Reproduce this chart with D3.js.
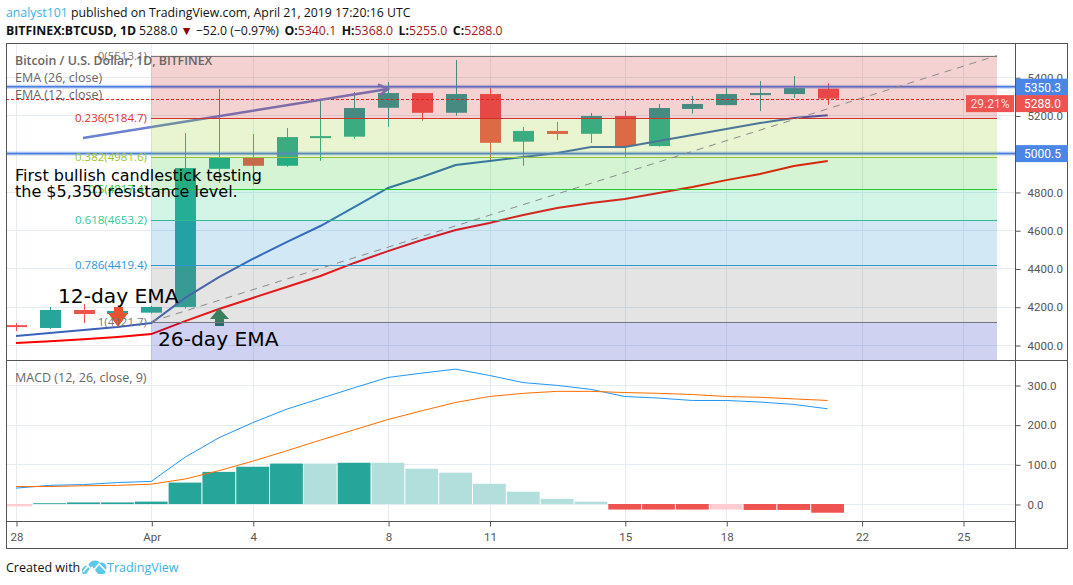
<!DOCTYPE html>
<html>
<head>
<meta charset="utf-8">
<style>
html,body{margin:0;padding:0;background:#fff;}
svg{display:block;}
text{font-family:"Open Sans",Roboto,sans-serif;}
</style>
</head>
<body>
<svg id="chart" width="1073" height="585"></svg>
<script src="https://cdn.jsdelivr.net/npm/d3@7/dist/d3.min.js"></script>
<script>
// BTC/USD daily candles, 28 March to 21 April 2019
const days = ["2019-03-28","2019-03-29","2019-03-30","2019-03-31","2019-04-01","2019-04-02","2019-04-03","2019-04-04","2019-04-05","2019-04-06","2019-04-07","2019-04-08","2019-04-09","2019-04-10","2019-04-11","2019-04-12","2019-04-13","2019-04-14","2019-04-15","2019-04-16","2019-04-17","2019-04-18","2019-04-19","2019-04-20","2019-04-21"];
const opens  = [4104,4089,4183,4162,4169,4199,4921,4979,4937,5082,5089,5240,5317,5214,5312,5063,5119,5104,5197,5040,5234,5254,5308,5312,5340.1];
const highs  = [4115,4199,4214,4193,4205,5108,5338,5103,5134,5281,5322,5375,5317,5490,5343,5139,5166,5213,5223,5260,5302,5343,5380,5406,5368];
const lows   = [4073,4084,4115,4152,4165,4190,4847,4838,4932,4963,5078,5141,5172,5199,4958,4937,5072,5056,4984,5037,5209,5254,5223,5291,5255];
const closes = [4094,4183,4162,4178,4199,4925,4979,4937,5087,5092,5239,5317,5214,5312,5057,5119,5103,5197,5040,5239,5260,5312,5317,5343,5288];

const ema12 = [4047,4063,4078,4094,4115,4246,4355,4450,4538,4622,4721,4821,4878,4941,4962,4983,5004,5035,5035,5066,5098,5129,5160,5187,5201];
const ema26 = [4010,4020,4030,4042,4057,4125,4188,4246,4303,4361,4429,4491,4549,4601,4638,4680,4716,4742,4763,4795,4826,4862,4894,4936,4962];

const macdLine   = [40,47,49,54,57,118,167,205,239,266,293,319,330,340,324,306,299,289,271,267,261,261,257,251,240];
const signalLine = [44,44,46,47,50,63,84,108,134,161,187,213,235,256,271,279,284,284,281,279,276,271,269,265,261];
const histogram  = [-6,2,4,4,6,54,81,94,102,102,104,104,89,79,51,31,13,6,-14,-14,-14,-14,-15,-15,-22];
const histShade  = ["pale","full","full","full","full","full","full","full","full","pale","full","pale","pale","pale","pale","pale","pale","pale","full","full","full","pale","full","full","full"];

const fibRatios = ["0","0.236","0.382","0.5","0.618","0.786","1"];
const fibPrices = [5513.1,5184.7,4981.6,4817.4,4653.2,4419.4,4121.7];
const fibLine   = ["#787878","#d32f2f","#8fc23a","#22cc22","#35b894","#2b98d0","#787878"];
const fibLabel  = ["#787878","#e03030","#9cc51f","#2ecc2e","#2ecc94","#2b98d8","#787878"];
const fibFill   = ["#c81e1e","#91c814","#28c828","#1ecd8c","#1e91cd","#787878"];
const belowFill = "#141ebe";

const priceTicks = [4000,4200,4400,4600,4800,5000,5200,5400];
const macdTicks  = [0,100,200,300];
const timeTickDates = ["2019-03-28","2019-04-01","2019-04-04","2019-04-08","2019-04-11","2019-04-15","2019-04-18","2019-04-22","2019-04-25"];
const timeTickLabels = ["28","Apr","4","8","11","15","18","22","25"];
const levelPrices = [5350.3,5000.5];
const lastPrice = 5288.0;
const swingLow = 4121.7, swingHigh = 5513.1;
const retracePercent = "29.21%";

const parse = d3.utcParse("%Y-%m-%d");
const dates = days.map(parse);

const W = {left:6,right:1067,axis:1015,top:43,split:360,macdBottom:521,bottom:548};
const fibLeft = 151, fibRight = 997;

const x = d3.scaleUtc().domain([parse("2019-03-28"),parse("2019-04-25")]).range([16,963]);
const y = d3.scaleLinear().domain([4000,5400]).range([345,77.2]);
const ym = d3.scaleLinear().domain([0,300]).range([504,385]);
const px = v => Math.round(v)+0.5;

const svg = d3.select("#chart");
const defs = svg.append("defs");
defs.append("clipPath").attr("id","pricePane").append("rect")
  .attr("x",W.left).attr("y",W.top).attr("width",W.axis-W.left).attr("height",W.split-W.top);
defs.append("clipPath").attr("id","macdPane").append("rect")
  .attr("x",W.left).attr("y",W.split).attr("width",W.axis-W.left).attr("height",W.macdBottom-W.split);

const gridColor = "#e4edf3";

// Grid
const grid = svg.append("g");
grid.selectAll(".v").data(timeTickDates).join("line")
  .attr("x1",d=>px(x(parse(d)))).attr("x2",d=>px(x(parse(d))))
  .attr("y1",W.top).attr("y2",W.macdBottom).attr("stroke",gridColor);
grid.selectAll(".hp").data(priceTicks).join("line")
  .attr("x1",W.left).attr("x2",W.axis).attr("y1",d=>px(y(d))).attr("y2",d=>px(y(d))).attr("stroke",gridColor);
grid.selectAll(".hm").data(macdTicks).join("line")
  .attr("x1",W.left).attr("x2",W.axis).attr("y1",d=>px(ym(d))).attr("y2",d=>px(ym(d))).attr("stroke",gridColor);

// Price pane
const price = svg.append("g").attr("clip-path","url(#pricePane)");
const up = "#26a69a", down = "#ef5350";
const candle = price.selectAll("g.c").data(dates).join("g");
candle.append("line")
  .attr("x1",d=>px(x(d))).attr("x2",d=>px(x(d)))
  .attr("y1",(d,i)=>y(highs[i])).attr("y2",(d,i)=>y(lows[i]))
  .attr("stroke",(d,i)=>closes[i]>=opens[i]?up:down);
candle.append("rect")
  .attr("x",d=>Math.round(x(d))-10).attr("width",21)
  .attr("y",(d,i)=>y(Math.max(opens[i],closes[i])))
  .attr("height",(d,i)=>Math.max(2,Math.abs(y(opens[i])-y(closes[i]))))
  .attr("fill",(d,i)=>closes[i]>=opens[i]?up:down);

const lineOf = scale => d3.line().x((v,i)=>x(dates[i])).y(v=>scale(v));
price.append("path").datum(ema12).attr("d",lineOf(y)).attr("fill","none").attr("stroke","#3a62b8").attr("stroke-width",2);
price.append("path").datum(ema26).attr("d",lineOf(y)).attr("fill","none").attr("stroke","#ff0000").attr("stroke-width",2);

// Horizontal resistance and support levels
levelPrices.forEach(p=>{
  price.append("line").attr("x1",W.left).attr("x2",W.axis).attr("y1",y(p)).attr("y2",y(p))
    .attr("stroke","#4a86e8").attr("stroke-opacity",.35).attr("stroke-width",4);
  price.append("line").attr("x1",W.left).attr("x2",W.axis).attr("y1",y(p)).attr("y2",y(p))
    .attr("stroke","#4a7ae0").attr("stroke-width",1.5);
});
price.append("line").attr("x1",W.left).attr("x2",W.axis).attr("y1",px(y(lastPrice))).attr("y2",px(y(lastPrice)))
  .attr("stroke","#f02020").attr("stroke-dasharray","3 2");

// Trend arrow drawn across the rally
const trendStart = [83,138], trendEnd = [388,89];
const arrow = price.append("g").attr("fill","none").attr("stroke","#6a80cc").attr("stroke-width",2.5);
arrow.append("line").attr("x1",trendStart[0]).attr("y1",trendStart[1]).attr("x2",trendEnd[0]).attr("y2",trendEnd[1]);
arrow.append("path").attr("d",`M378,84.5L${trendEnd[0]},${trendEnd[1]}L380,95`);

// Buy and sell markers
price.append("path").attr("d","M114,307H123V313H128L118,327L108,313H114Z").attr("fill","#e8512f");
price.append("path").attr("d","M219,308L229,319H224V326H215V319H210Z").attr("fill","#2f8058");

// Fibonacci retracement bands laid over the candles
const fib = price.append("g");
fibFill.forEach((c,i)=>{
  fib.append("rect").attr("x",fibLeft).attr("width",fibRight-fibLeft)
    .attr("y",y(fibPrices[i])).attr("height",y(fibPrices[i+1])-y(fibPrices[i]))
    .attr("fill",c).attr("fill-opacity",.2);
});
fib.append("rect").attr("x",fibLeft).attr("width",fibRight-fibLeft)
  .attr("y",y(swingLow)).attr("height",W.split-y(swingLow))
  .attr("fill",belowFill).attr("fill-opacity",.2);
fibPrices.forEach((p,i)=>{
  fib.append("line").attr("x1",fibLeft).attr("x2",fibRight)
    .attr("y1",px(y(p))).attr("y2",px(y(p))).attr("stroke",fibLine[i]);
  fib.append("text").attr("x",147).attr("y",y(p)+4).attr("text-anchor","end")
    .attr("font-size",11.5).attr("font-weight",500).attr("fill",fibLabel[i])
    .text(`${fibRatios[i]}(${p.toFixed(1)})`);
});
// Diagonal from the swing low to the swing high
fib.append("line").attr("x1",fibLeft).attr("y1",y(swingLow)).attr("x2",fibRight).attr("y2",y(swingHigh))
  .attr("stroke","#8a8a8a").attr("stroke-dasharray","7 6");

// Pane legends
const legend = svg.append("g").attr("fill","#666").attr("font-size",12.5);
legend.append("text").attr("x",15).attr("y",65).attr("font-size",12.35).attr("font-weight",600).text("Bitcoin / U.S. Dollar, 1D, BITFINEX");
legend.append("text").attr("x",15).attr("y",82).text("EMA (26, close)");
legend.append("text").attr("x",15).attr("y",99).text("EMA (12, close)");
legend.append("text").attr("x",15).attr("y",382).text("MACD (12, 26, close, 9)");

// MACD pane
const macd = svg.append("g").attr("clip-path","url(#macdPane)");
const barColor = (v,i)=> v>=0 ? (histShade[i]==="full"?"#26a69a":"#b2dfdb") : (histShade[i]==="full"?"#ef5350":"#ffcdd2");
macd.selectAll("rect").data(histogram).join("rect")
  .attr("x",(v,i)=>x(dates[i])-16.5).attr("width",32.8)
  .attr("y",v=>Math.min(ym(v),ym(0)))
  .attr("height",v=>Math.abs(ym(v)-ym(0)))
  .attr("fill",barColor);
macd.append("path").datum(macdLine).attr("d",lineOf(ym)).attr("fill","none").attr("stroke","#2196f3").attr("stroke-width",1);
macd.append("path").datum(signalLine).attr("d",lineOf(ym)).attr("fill","none").attr("stroke","#ff6d00").attr("stroke-width",1);

// Chart annotations
const notes = svg.append("g").attr("fill","#000");
const note = (tx,ty,size,str) => notes.append("text").attr("x",tx).attr("y",ty).attr("font-size",size).style("font-family","'DejaVu Sans'").text(str);
note(15,181,16,"First bullish candlestick testing");
note(15,197,16,"the $5,350 resistance level.");
note(58,303,20.2,"12-day EMA");
note(158,346,20.2,"26-day EMA");

// Frame and pane dividers
const frame = svg.append("g").attr("fill","none").attr("stroke","#555");
frame.append("rect").attr("x",W.left+.5).attr("y",W.top+.5).attr("width",W.right-W.left).attr("height",W.bottom-W.top);
frame.append("line").attr("x1",W.left).attr("x2",W.right).attr("y1",W.split+.5).attr("y2",W.split+.5);
frame.append("line").attr("x1",W.left).attr("x2",W.axis).attr("y1",W.macdBottom+.5).attr("y2",W.macdBottom+.5);
frame.append("line").attr("x1",W.axis+.5).attr("x2",W.axis+.5).attr("y1",W.top).attr("y2",W.bottom);

// Axes
const styleAxis = g => {
  g.select(".domain").remove();
  g.selectAll("line").attr("stroke","#555");
  g.selectAll("text").attr("fill","#555").attr("font-size",11.5).style("font-family","Roboto,'Open Sans',sans-serif");
};
svg.append("g").attr("transform",`translate(${W.axis+.5},.5)`)
  .call(d3.axisRight(y).tickValues(priceTicks).tickFormat(d3.format(".1f")).tickSize(5).tickPadding(7)).call(styleAxis);
svg.append("g").attr("transform",`translate(${W.axis+.5},.5)`)
  .call(d3.axisRight(ym).tickValues(macdTicks).tickFormat(d3.format(".1f")).tickSize(5).tickPadding(7)).call(styleAxis);
svg.append("g").attr("transform",`translate(.5,${W.macdBottom+.5})`)
  .call(d3.axisBottom(x).tickValues(timeTickDates.map(parse)).tickFormat((d,i)=>timeTickLabels[i]).tickSize(5).tickPadding(6)).call(styleAxis);

// Price tags on the right-hand scale
const tag = (p,color,top,h) => {
  svg.append("rect").attr("x",W.axis+1).attr("y",top).attr("width",W.right-W.axis).attr("height",h).attr("fill",color);
  svg.append("text").attr("x",W.axis+9).attr("y",top+h/2+4.5).attr("fill","#fff").attr("font-size",12)
    .style("font-family","Roboto,sans-serif").text(p.toFixed(1));
};
tag(levelPrices[0],"#4a86e8",y(levelPrices[0])-8,17);
tag(levelPrices[1],"#4a86e8",y(levelPrices[1])-8.5,17);
tag(lastPrice,down,y(lastPrice)-3.5,17);
svg.append("rect").attr("x",966).attr("y",y(lastPrice)-3.5).attr("width",48).attr("height",17).attr("fill",down);
svg.append("text").attr("x",990).attr("y",y(lastPrice)+9.5).attr("text-anchor","middle").attr("fill","#fff").attr("fill-opacity",.8)
  .attr("font-size",12).style("font-family","Roboto,sans-serif").text(retracePercent);

// Publication header
const head1 = svg.append("text").attr("x",6).attr("y",17).attr("font-size",12.3).attr("fill","#111");
head1.append("tspan").attr("fill","#3bb3e4").text("analyst101");
head1.append("tspan").text(" published on TradingView.com, April 21, 2019 17:20:16 UTC");

const red = "#a31515";
const head2 = svg.append("text").attr("x",6).attr("y",35).attr("font-size",12.3).attr("fill","#111");
head2.append("tspan").attr("font-weight",700).text("BITFINEX:BTCUSD, 1D");
head2.append("tspan").attr("dx",3).text("5288.0");
head2.append("tspan").attr("dx",3).attr("fill","#8b0000").text("▼");
head2.append("tspan").attr("dx",3).text("−52.0 (−0.97%)");
[["O:","5340.1"],["H:","5368.0"],["L:","5255.0"],["C:","5288.0"]].forEach(([k,v])=>{
  head2.append("tspan").attr("dx",5.5).attr("font-weight",700).text(k);
  head2.append("tspan").attr("fill",red).text(v);
});

// Footer credit and logo
svg.append("text").attr("x",6).attr("y",572).attr("font-size",12.5).attr("fill","#111").text("Created with");
svg.append("path").attr("fill","#5ac8e8")
  .attr("d","M83,574C80,569 84,565 88,566C90,560 97,559 100,563C104,561 108,566 106,570C106,572 105,574 103,574L98,574L92,566L86,574Z");
svg.append("path").attr("fill","none").attr("stroke","#fff").attr("stroke-width",1.6)
  .attr("d","M83,572L88,566L93,571L99,564L106,571");
svg.append("text").attr("x",107).attr("y",572).attr("font-size",12.5).attr("fill","#3bb3e4").text("TradingView");
</script>
</body>
</html>
